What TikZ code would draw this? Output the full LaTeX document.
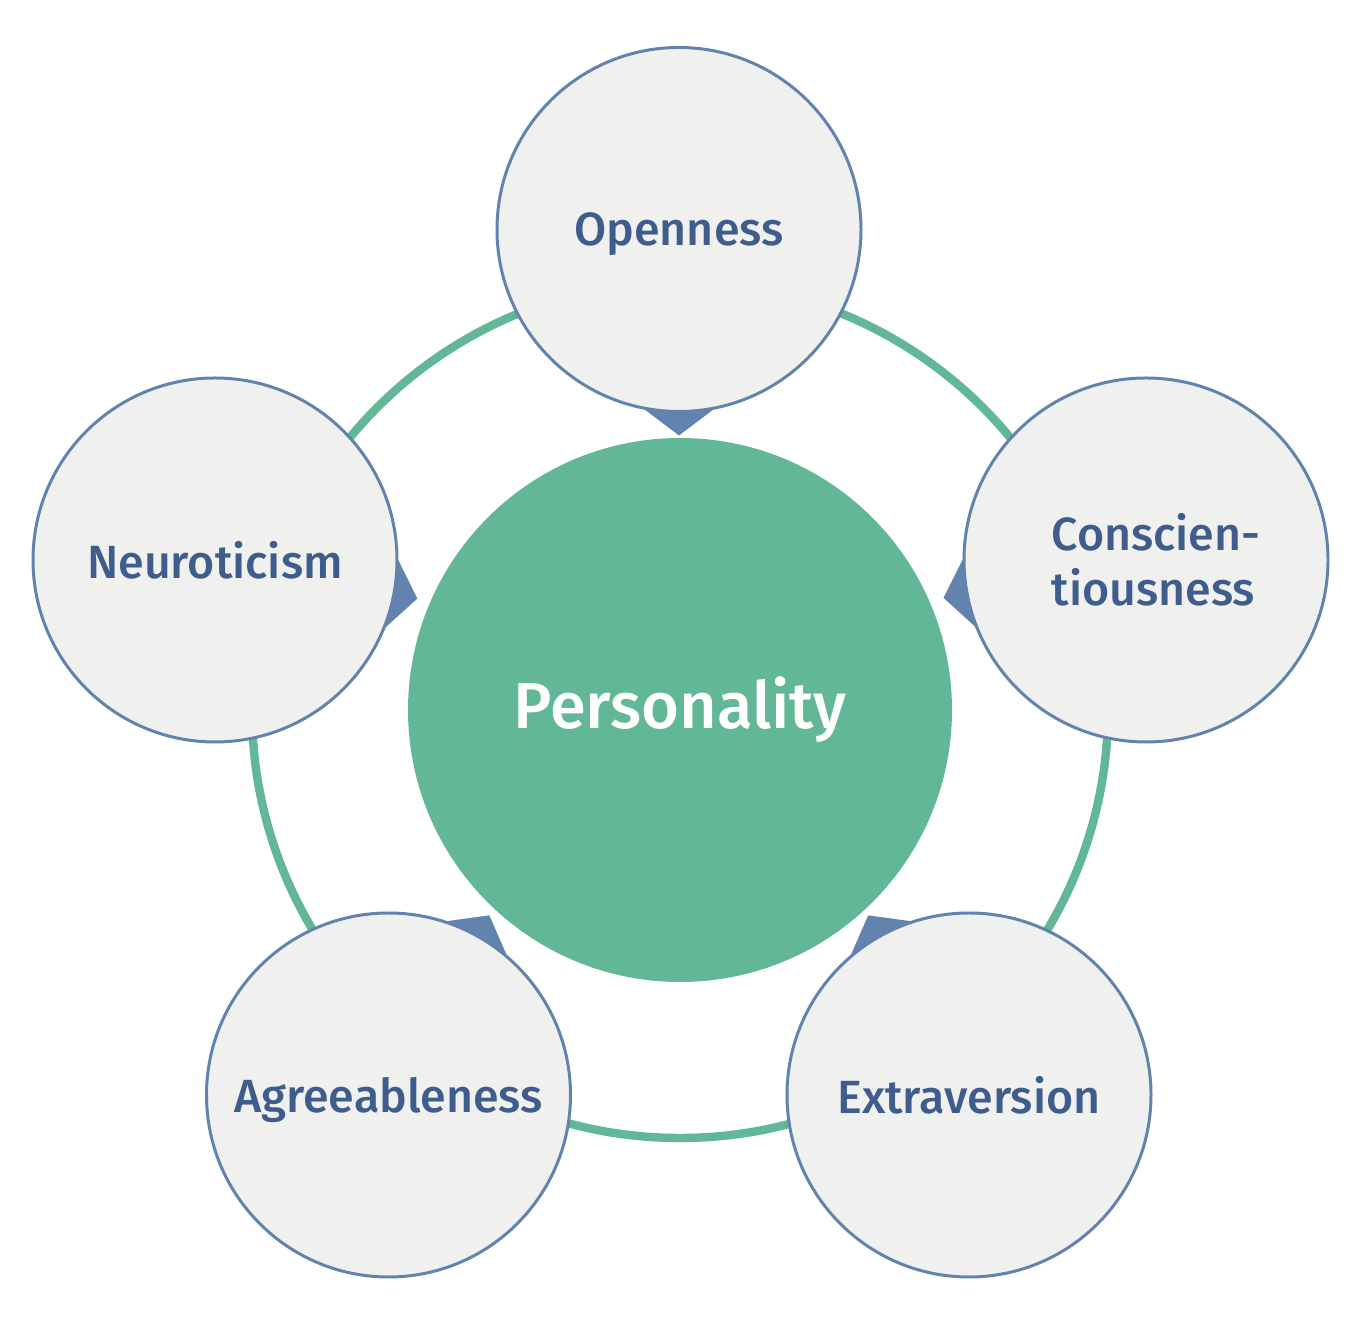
\documentclass[tikz,border=0pt]{standalone}
\usepackage{fontspec}
\setmainfont{Fira Sans}[BoldFont={Fira Sans Medium}]
\definecolor{traitblue}{HTML}{6283AD}
\definecolor{traittext}{HTML}{3E5D8C}
\definecolor{traitgrey}{HTML}{F0F0EE}
\definecolor{coregreen}{HTML}{62B896}

\begin{document}
\begin{tikzpicture}[trait/.style={circle, draw=traitblue, line width=1.7pt, fill=traitgrey, minimum size=7.28cm, inner sep=0pt, text depth=0pt, text=traittext, font=\fontsize{26.5}{31}\selectfont\bfseries},core/.style={circle, fill=coregreen, minimum size=10.88cm, inner sep=0pt, text=white, font=\fontsize{37}{44}\selectfont\bfseries},tip/.style={fill=traitblue}]

        \useasboundingbox (0,0) rectangle (27.16,26.44);

        \coordinate (c) at (13.6,12.24);
        \coordinate (o) at (13.58,21.85);
        \coordinate (s) at (22.92,15.24);
        \coordinate (e) at (19.38,4.54);
        \coordinate (a) at (7.77,4.54);
        \coordinate (n) at (4.30,15.24);

        % ring behind the five traits
        \draw[coregreen, line width=4.8pt] (c) circle (8.56);

        % small pointers towards the core
        \fill[tip] ([shift={(257:3.6)}]o) -- ([shift={(270:4.12)}]o) -- ([shift={(283:3.6)}]o) -- cycle;
        \fill[tip] ([shift={(177.6:3.6)}]s) -- ([shift={(190.6:4.12)}]s) -- ([shift={(203.6:3.6)}]s) -- cycle;
        \fill[tip] ([shift={(106.3:3.6)}]e) -- ([shift={(119.3:4.12)}]e) -- ([shift={(132.3:3.6)}]e) -- cycle;
        \fill[tip] ([shift={(47.7:3.6)}]a) -- ([shift={(60.7:4.12)}]a) -- ([shift={(73.7:3.6)}]a) -- cycle;
        \fill[tip] ([shift={(-23.8:3.6)}]n) -- ([shift={(-10.8:4.12)}]n) -- ([shift={(2.2:3.6)}]n) -- cycle;

        \node[trait] (O) at (o) {Openness};
        \node[trait, align=left, text depth=] (S) at (s) {\hspace*{0.4cm}Conscien-\\\hspace*{0.4cm}tiousness};
        \node[trait] (E) at (e) {Extraversion};
        \node[trait] (A) at (a) {Agreeableness};
        \node[trait] (N) at (n) {Neuroticism};
        \node[core] (P) at (c) {Personality};
\end{tikzpicture}
\end{document}
